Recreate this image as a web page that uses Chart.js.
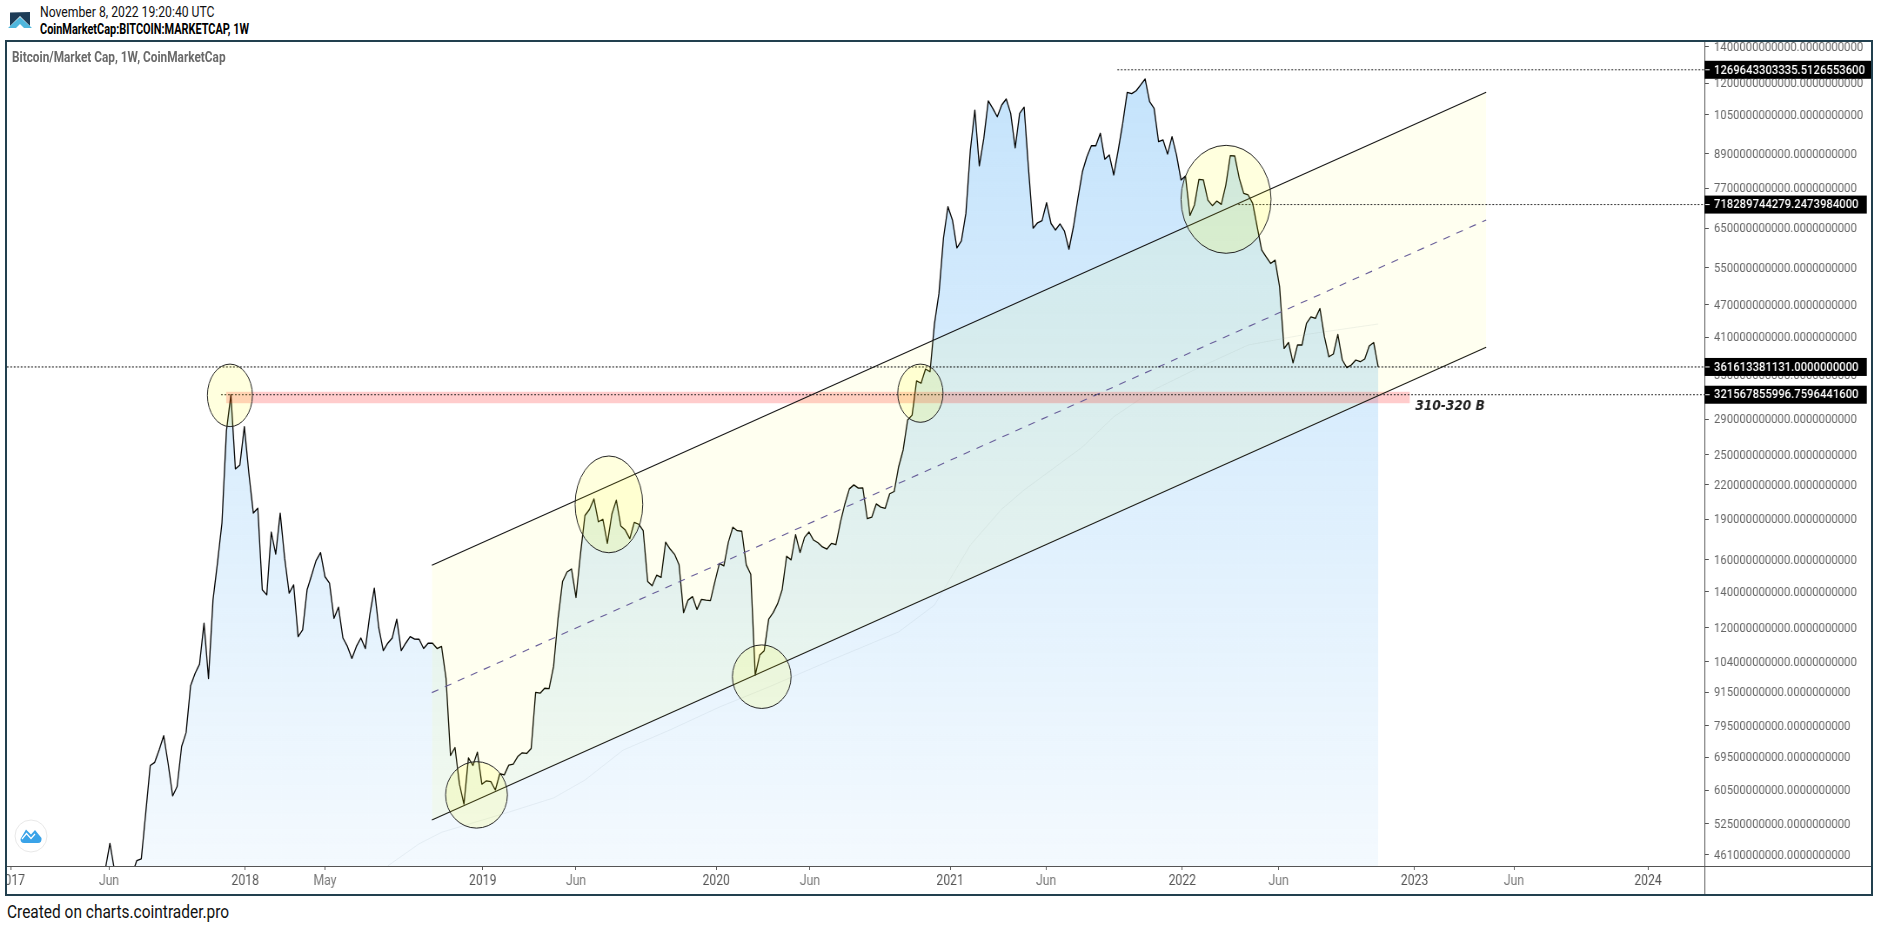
<!DOCTYPE html>
<html>
<head>
<meta charset="utf-8">
<title>Bitcoin/Market Cap</title>
<script src="https://cdn.jsdelivr.net/npm/chart.js@4"></script>
<style>
  html, body { margin: 0; padding: 0; background: #fff; overflow: hidden; }
  body { width: 1878px; height: 926px; position: relative; font-family: Roboto, sans-serif; }
  .squeezed { position: absolute; white-space: nowrap; transform: scaleX(.87); transform-origin: left center; }
  #stamp { left: 40px; top: 4px; font-size: 14px; line-height: 17px; color: #111; }
  #symbol { left: 40px; top: 21px; font-size: 14px; line-height: 17px; color: #000; font-weight: 700; transform: scaleX(.78); }
  #footer { left: 7px; top: 901px; font-size: 17.8px; line-height: 22px; color: #111; }
  #frame { position: absolute; left: 5px; top: 40px; width: 1864px; height: 852px; border: 2px solid #22404f; overflow: hidden; }
  #chartBox { position: absolute; left: 0; top: 0; transform: scaleX(.87); transform-origin: left top; }
  #title { left: 5px; top: 7px; font-size: 14px; line-height: 17px; color: #6a6a6a; font-weight: 700; transform: scaleX(.845); }
  #logo { position: absolute; left: 8px; top: 11px; }
  #cloud { position: absolute; left: 7px; top: 777px; }
</style>
</head>
<body>
<svg id="logo" width="26" height="19" viewBox="0 0 26 19">
  <polygon points="2,1.5 22,1 22,15 12,5 2,15" fill="#1d3c57"/>
  <polygon points="0,17 12,6 24,17 16,17 12,13 8,17" fill="#4fb6dc"/>
</svg>
<div class="squeezed" id="stamp">November 8, 2022 19:20:40 UTC</div>
<div class="squeezed" id="symbol">CoinMarketCap:BITCOIN:MARKETCAP, 1W</div>
<div id="frame">
  <div id="chartBox"><canvas id="capChart" width="2143" height="852"></canvas></div>
  <div class="squeezed" id="title">Bitcoin/Market Cap, 1W, CoinMarketCap</div>
  <svg id="cloud" width="34" height="34" viewBox="0 0 34 34">
    <circle cx="17" cy="17" r="16" fill="#fff" stroke="#e8e8e8"/>
    <path d="M6.5 20 L12 10.5 L17 15.5 L21 11 L27.5 19 Q28 24 24 24 L10 24 Q6.5 24 6.5 20 Z" fill="#3aa3e8"/>
    <path d="M8 20 L12.5 14.5 L17 19.5 L21 15" fill="none" stroke="#fff" stroke-width="1.2"/>
  </svg>
</div>
<div class="squeezed" id="footer">Created on charts.cointrader.pro</div>

<script>
// market cap in billions, one value per week starting at firstWeek (week 0 = first bar of 2017)
const firstWeek = 21;
const capB = [
  43.4,48.3,43.2,41,40,39,42.5,44.9,45.2,55,
  67.1,68,71.7,76.1,67.6,59,61.4,72.7,77.1,94,
  99,103,122.5,96.9,135,158,187,276,321.6,235,
  239,281,231,195,199,141,138,180,164,195,
  161,139,144,115.7,119,141,150,159.5,165,149,
  145,125,131,115,111,105.5,111,115,110,127,
  142,120,109,112.5,115,124.6,109,112.5,115.7,114.5,
  114.4,110,112.5,112.5,110,111,97,70,72.4,62,
  57,69.3,67.1,71,62,62.9,62.7,60.5,64.8,64.5,
  67.2,67.5,69.7,70.8,70.6,72.1,91.4,91.1,93,92.9,
  102,125,146,152,154,136.5,164,193,198,207,
  188,190,171.6,194,206,184.7,181.5,175,187.5,186,
  181,146,143.4,150,148.6,172.5,167.5,163.8,156.7,128,
  135,137,129.8,135.4,135,134.7,146,157.7,156,172.5,
  183.7,181,180.6,156.7,150.6,98.3,107,109,124.6,128,
  133,141,162.5,160,178,165,176,180,174,172,
  169,167.5,171.6,170.6,187.5,202.7,216,219.7,216.7,217,
  190.4,191.6,202.7,200,199,211.6,213.6,237.2,254.6,289,
  295,341,337.5,358.5,354.4,434.9,494,623.7,712,673,
  598,616,692,904.6,1071,846,950,1113,1079,1041,
  1094,1122,1056,913,1056,1084,831,650,665,671,
  724,663,645,662,642,594.7,654,737,825,879,
  921,921,971,870,886,814,904.6,1013,1154,1148,
  1162,1191,1221,1110,1079,937,944,889,957,886,
  797,810,686,717,799,797,732,715,729,719,
  780,883,882,803,753,748,722,654,593,576,
  560,568,507.6,391,401,368,396.8,396.8,434.9,447,
  444,463,411,377.6,382,415,372.4,360.5,364.6,372.4,
  369.7,374,395,401,361.6
];

// the faint moving average
const maWeeks = [84,91,96,111,121,128,136.5,147,158,169,183,198,206,214,221,226,239,246,255,265,276,288,305];
const maB = [43.9,48.2,50.6,55.1,58.5,63.1,71.6,78,85.9,93.5,104.8,118,132.2,170.4,198.3,215,257.8,293,328.5,360.6,396.8,413.8,433.6];

const yTicksB = [1400,1200,1050,890,770,650,550,470,410,350,290,250,220,190,160,140,120,104,91.5,79.5,69.5,60.5,52.5,46.1];
const xTickWeeks = [0,21.8,52.2,70,105.2,126,157.3,178.2,209.5,230.9,261.3,282.8,313.1,335.3,365.2];
const xTickLabels = ['2017','Jun','2018','May','2019','Jun','2020','Jun','2021','Jun','2022','Jun','2023','Jun','2024'];

// drawn channel, [start, end]
const channelWeeks = [93.84, 329.1];
const channelUpper = [156.4, 1154.5];
const channelMid = [91.3, 673];
const channelLower = [53.3, 393];

// support band and its note
const bandWeeks = [47.9, 312.1];
const bandTop = 325.7;
const bandBottom = 310.2;
const noteText = '310-320 B';
const noteWeek = 313.3;
const noteB = 306;

// horizontal price lines
const priceValues = [1269.6433, 718.2897, 361.6134, 321.5679];
const priceStartWeeks = [246.8, 273.8, -1, 46.8];
const priceLabels = ['1269643303335.5126553600','718289744279.2473984000','361613381131.0000000000','321567855996.7596441600'];

// circles: left week, right week, top value, bottom value
const circleLeft = [43.75, 96.9, 125.8, 160.9, 197.8, 261];
const circleRight = [53.8, 110.7, 140.9, 174, 207.9, 281.1];
const circleTop = [366, 68.2, 248.2, 111.7, 366, 922.6];
const circleBottom = [281, 51.5, 164.9, 85.4, 286.2, 584.6];

const weekMin = -0.96, weekMax = 377.8;
const capMin = 43.88, capMax = 1427.9;
const squeeze = 0.87;

function capPoints() {
  return capB.map((v, i) => ({ x: firstWeek + i, y: v }));
}

function twoPoints(weeks, values) {
  return weeks.map((w, i) => ({ x: w, y: values[i] }));
}

function priceLine(i) {
  return {
    data: [{ x: priceStartWeeks[i], y: priceValues[i] }, { x: weekMax, y: priceValues[i] }],
    borderColor: i === 2 ? '#000' : '#222',
    borderWidth: 1,
    borderDash: [2, 2],
    pointRadius: 0,
    fill: false
  };
}

function areaGradient(context) {
  const area = context.chart.chartArea;
  if (!area) return 'rgba(33,150,243,.15)';
  const g = context.chart.ctx.createLinearGradient(0, area.top, 0, area.bottom);
  g.addColorStop(0, 'rgba(33,150,243,.27)');
  g.addColorStop(1, 'rgba(33,150,243,.05)');
  return g;
}

const annotations = {
  id: 'annotations',
  afterDatasetsDraw(chart) {
    const { ctx, scales: { x, y } } = chart;
    ctx.save();
    circleLeft.forEach((_, i) => {
      const l = x.getPixelForValue(circleLeft[i]);
      const r = x.getPixelForValue(circleRight[i]);
      const t = y.getPixelForValue(circleTop[i]);
      const b = y.getPixelForValue(circleBottom[i]);
      ctx.beginPath();
      ctx.ellipse((l + r) / 2, (t + b) / 2, (r - l) / 2, (b - t) / 2, 0, 0, Math.PI * 2);
      ctx.fillStyle = 'rgba(255,255,0,.13)';
      ctx.fill();
      ctx.lineWidth = 1;
      ctx.strokeStyle = '#222';
      ctx.stroke();
    });
    ctx.font = 'italic bold 14px "DejaVu Sans"';
    ctx.fillStyle = '#222';
    ctx.textAlign = 'left';
    ctx.textBaseline = 'middle';
    ctx.fillText(noteText, x.getPixelForValue(noteWeek), y.getPixelForValue(noteB));
    ctx.restore();
  },
  afterDraw(chart) {
    const { ctx, scales: { y }, chartArea } = chart;
    ctx.save();
    // axis lines run on to the frame
    ctx.strokeStyle = '#555';
    ctx.lineWidth = 1;
    ctx.beginPath();
    ctx.moveTo(chartArea.right + .5, chartArea.bottom);
    ctx.lineTo(chartArea.right + .5, chart.height);
    ctx.moveTo(chartArea.right, chartArea.bottom + .5);
    ctx.lineTo(chart.width, chartArea.bottom + .5);
    ctx.stroke();
    // price tags
    ctx.font = '500 13px Roboto';
    ctx.textAlign = 'left';
    ctx.textBaseline = 'middle';
    priceLabels.forEach((label, i) => {
      const py = y.getPixelForValue(priceValues[i]);
      const w = ctx.measureText(label).width;
      ctx.fillStyle = '#000';
      ctx.fillRect(chartArea.right, py - 9, w + 20.5, 18);
      ctx.fillStyle = '#fff';
      ctx.fillRect(chartArea.right + 1, py - .5, 5, 1);
      ctx.fillText(label, chartArea.right + 11, py + .5);
    });
    ctx.restore();
  }
};

new Chart(document.getElementById('capChart'), {
  type: 'line',
  data: {
    datasets: [
      priceLine(0),
      priceLine(1),
      priceLine(2),
      priceLine(3),
      {
        data: twoPoints(channelWeeks, channelUpper),
        borderColor: '#111', borderWidth: 1.2, pointRadius: 0,
        fill: '+2', backgroundColor: 'rgba(255,255,0,.06)'
      },
      {
        data: twoPoints(channelWeeks, channelMid),
        borderColor: '#5a4fa0', borderWidth: 1.1, borderDash: [8, 8], pointRadius: 0, fill: false
      },
      {
        data: twoPoints(channelWeeks, channelLower),
        borderColor: '#111', borderWidth: 1.2, pointRadius: 0, fill: false
      },
      {
        data: twoPoints(bandWeeks, [bandTop, bandTop]),
        borderWidth: 0, pointRadius: 0,
        fill: '+1', backgroundColor: 'rgba(255,0,0,.2)'
      },
      {
        data: twoPoints(bandWeeks, [bandBottom, bandBottom]),
        borderWidth: 0, pointRadius: 0, fill: false
      },
      {
        data: twoPoints(maWeeks, maB),
        borderColor: 'rgba(150,165,180,.16)', borderWidth: 1, pointRadius: 0, fill: false
      },
      {
        data: capPoints(),
        borderColor: '#000', borderWidth: 1.3, borderJoinStyle: 'round', pointRadius: 0,
        fill: 'start', backgroundColor: areaGradient
      }
    ]
  },
  options: {
    responsive: false,
    animation: false,
    devicePixelRatio: 1,
    layout: { padding: 0 },
    plugins: { legend: { display: false }, tooltip: { enabled: false } },
    scales: {
      x: {
        type: 'linear',
        min: weekMin,
        max: weekMax,
        afterBuildTicks: s => { s.ticks = xTickWeeks.map(v => ({ value: v })); },
        afterFit: s => { s.height = 28; s.paddingLeft = 0; s.paddingRight = 0; },
        grid: { drawOnChartArea: false, tickLength: 4, color: '#555' },
        border: { color: '#555' },
        ticks: {
          autoSkip: false,
          maxRotation: 0,
          minRotation: 0,
          padding: 3,
          font: { family: 'Roboto', size: 14 },
          color: c => /^\d/.test(xTickLabels[c.index]) ? '#555' : '#777',
          callback: (v, i) => xTickLabels[i]
        }
      },
      y: {
        type: 'logarithmic',
        position: 'right',
        min: capMin,
        max: capMax,
        afterBuildTicks: s => { s.ticks = yTicksB.map(v => ({ value: v })); },
        afterFit: s => { s.width = (1871 - 1704) / squeeze; s.paddingTop = 0; s.paddingBottom = 0; },
        grid: { drawOnChartArea: false, tickLength: 5, color: '#555' },
        border: { color: '#555' },
        ticks: {
          autoSkip: false,
          padding: 6,
          labelOffset: 1,
          font: { family: 'Roboto', size: 13 },
          color: '#666',
          callback: v => (v * 1e9).toFixed(10)
        }
      }
    }
  },
  plugins: [annotations]
});
</script>
</body>
</html>
